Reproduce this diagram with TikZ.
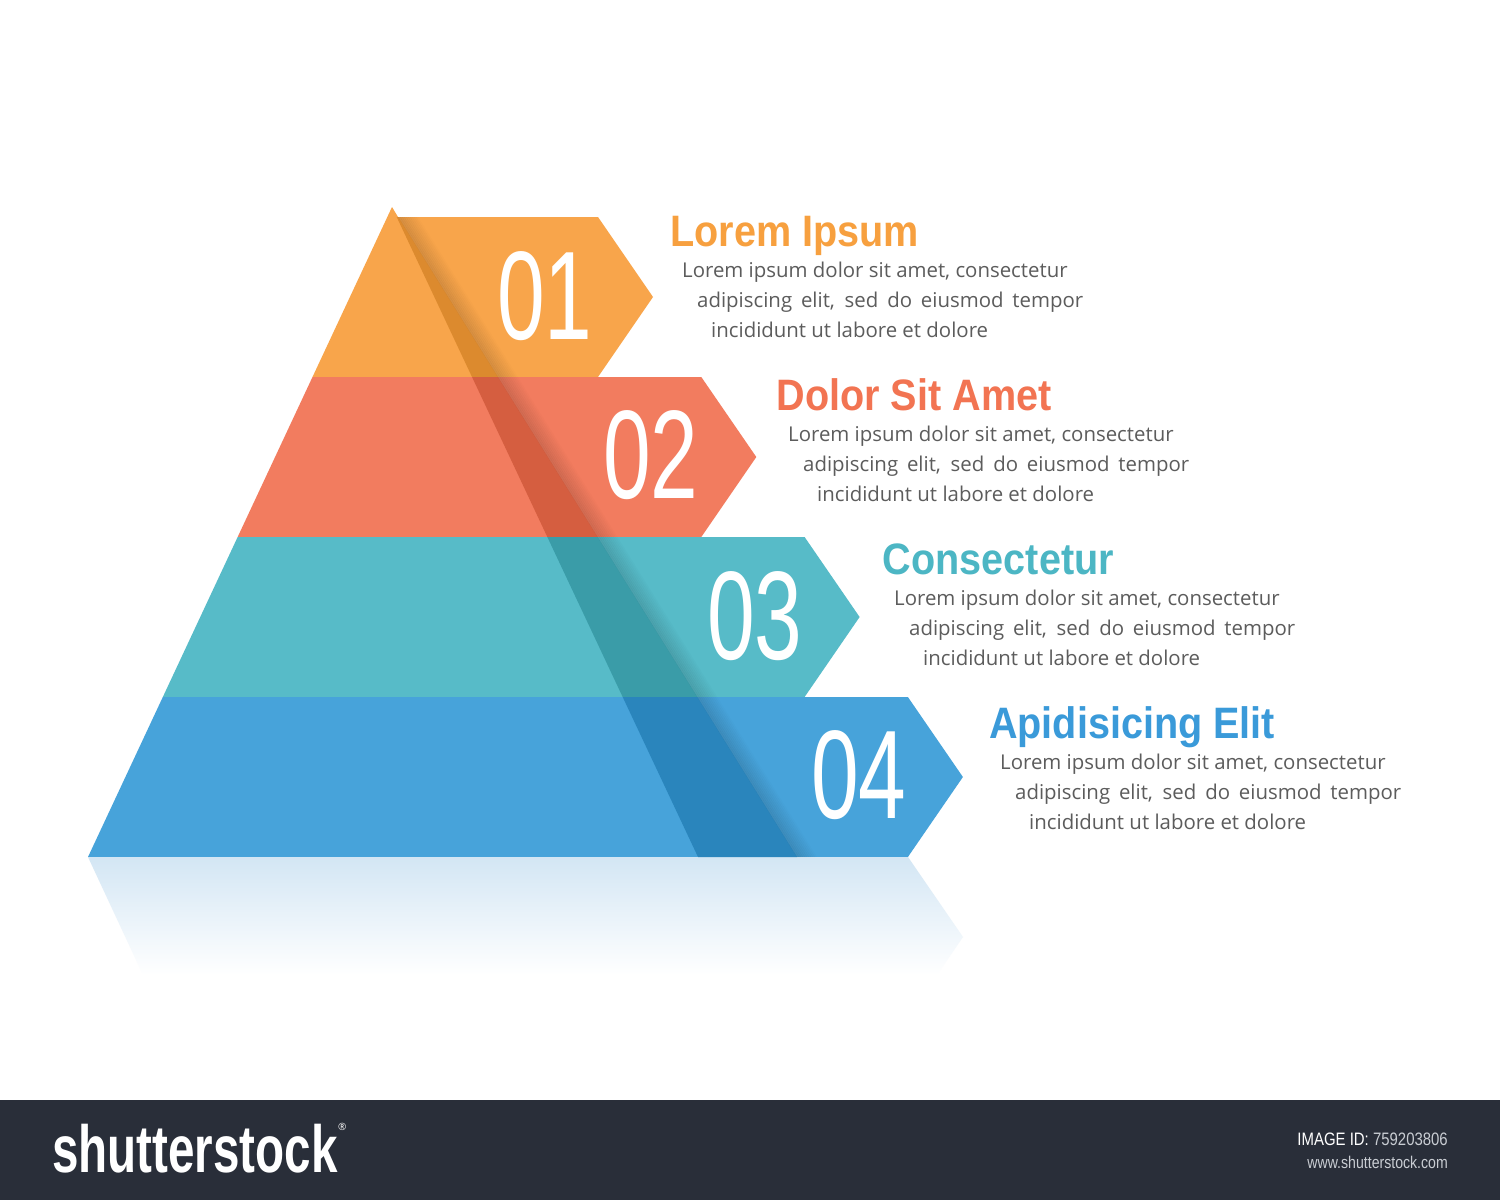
\documentclass[tikz,border=0pt]{standalone}
\usepackage{graphicx}
\usepackage{fontspec}
\setmainfont{Open Sans}
\newfontfamily\headfont{Liberation Sans}

\definecolor{lvl1}{HTML}{F8A54B}
\definecolor{lvl1dk}{HTML}{DC8A2E}
\definecolor{lvl1tt}{HTML}{F7A03F}
\definecolor{lvl2}{HTML}{F27C5F}
\definecolor{lvl2dk}{HTML}{D55E40}
\definecolor{lvl2tt}{HTML}{F27452}
\definecolor{lvl3}{HTML}{57BBC8}
\definecolor{lvl3dk}{HTML}{3A9CA8}
\definecolor{lvl3tt}{HTML}{4CB6C4}
\definecolor{lvl4}{HTML}{47A3DA}
\definecolor{lvl4dk}{HTML}{2A85BC}
\definecolor{lvl4tt}{HTML}{3A9AD9}
\definecolor{bodygray}{HTML}{5C5C5C}
\definecolor{barbg}{HTML}{292E39}
\definecolor{barfg}{HTML}{C9CDD3}
\definecolor{refl}{HTML}{D3E6F4}

\newcommand\blurbtext{Lorem ipsum dolor sit amet, consectetur\\
	\hspace*{15pt}\makebox[386pt][s]{adipiscing elit, sed do eiusmod tempor}\\
	\hspace*{29pt}incididunt ut labore et dolore}

\tikzset{
	numlabel/.style={text=white, inner sep=0pt, font=\headfont\fontsize{126}{126}\selectfont},
	heading/.style={anchor=base west, inner sep=0pt, font=\headfont\bfseries\fontsize{44}{44}\selectfont},
	blurb/.style={anchor=base west, inner sep=0pt, align=left, text=bodygray, font=\fontsize{20.4}{30}\selectfont},
	barlabel/.style={anchor=base east, inner sep=0pt, font=\headfont\fontsize{18}{18}\selectfont},
}

\begin{document}
\begin{tikzpicture}[x=1pt,y=-1pt]
	\useasboundingbox (0,0) rectangle (1500,1200);
	\fill[white] (0,0) rectangle (1500,1200);

	\shade[top color=refl, bottom color=white] (88,857) -- (908,857) -- (963,937) -- (937,975) -- (143,975) -- cycle;

	\foreach \k [evaluate=\k as \ytop using 57+160*\k,
	             evaluate=\k as \xr using 598+103.3*(\k-1)] in {1,...,4}{
		\pgfmathsetmacro\ybot{\ytop+160}
		\pgfmathsetmacro\ymid{\ytop+80}
		\pgfmathsetmacro\xtop{392-0.4677*(\ytop-207)}
		\pgfmathsetmacro\xbot{392-0.4677*(\ybot-207)}
		\pgfmathsetmacro\xtip{\xr+55}
		\begin{scope}
			\clip (\xtop,\ytop) -- (\xbot,\ybot) -- (\xr,\ybot) -- (\xtip,\ymid) -- (\xr,\ytop) -- cycle;
			\fill[lvl\k] (0,\ytop) rectangle (1000,\ybot);
			\fill[lvl\k dk] (392,207) -- (698,857) -- (797,857) -- cycle;
			\foreach \i [evaluate=\i as \op using 0.13-0.013*\i,
			             evaluate=\i as \sx using 2*\i] in {0,...,9}
				\fill[black, opacity=\op] (392+\sx,207) -- (797+\sx,857) -- (799+\sx,857) -- (394+\sx,207) -- cycle;
		\end{scope}
	}
	\fill[lvl1] (392,207) -- (387.3,217) -- (398,217) -- cycle;

	\foreach \k/\xc/\yc in {1/545/296, 2/651/455, 3/755/616, 4/859/775}
		\node[numlabel] (num\k) at (\xc,\yc) {\scalebox{0.68}[1]{0\k}};

	\foreach \k/\ttl in {1/Lorem Ipsum, 2/Dolor Sit Amet, 3/Consectetur, 4/Apidisicing Elit}{
		\node[heading, text=lvl\k tt] (title\k) at (670+106.3*\k-106.3, 246+164*\k-164) {\scalebox{0.9}[1]{\ttl}};
		\node[blurb] (text\k) at (682+106*\k-106, 337+164*\k-164) {\blurbtext};
	}

	\fill[barbg] (0,1100) rectangle (1500,1200);
	\node[anchor=base west, inner sep=0pt, text=white, font=\headfont\bfseries\fontsize{58}{58}\selectfont] (logo) at (52,1172) {\scalebox{0.82}[1.15]{shutterstock}};
	\node[anchor=north west, inner sep=0pt, text=white, font=\fontsize{10}{10}\selectfont] (reg) at (logo.north east) {®};
	\node[barlabel, text=white] (imgid) at (1448,1145) {\scalebox{0.83}[1]{IMAGE ID: {\color{barfg}759203806}}};
	\node[barlabel, text=barfg, font=\headfont\fontsize{17}{17}\selectfont] (site) at (1448,1168) {\scalebox{0.83}[1]{www.shutterstock.com}};
\end{tikzpicture}
\end{document}
